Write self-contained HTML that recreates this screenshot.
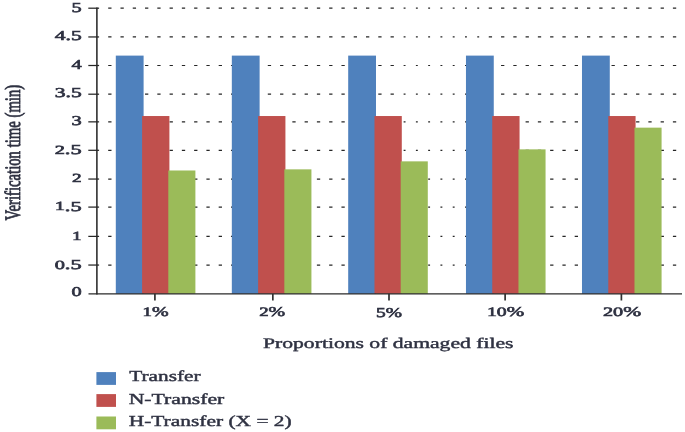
<!DOCTYPE html>
<html><head><meta charset="utf-8"><title>Verification time chart</title>
<style>
html,body{margin:0;padding:0;background:#fff;}
svg{display:block;}
text{font-family:"Liberation Serif","DejaVu Serif",serif;fill:#2f3242;text-rendering:geometricPrecision;}
.yt{stroke:#2f3242;stroke-width:0.55;}
.b{font-weight:normal;stroke:#2f3242;stroke-width:0.42;}
.tk{stroke-width:0.62;}
</style></head><body>
<svg width="685" height="432" viewBox="0 0 685 432">
<rect width="685" height="432" fill="#ffffff"/>

<line x1="108.2" x2="400" y1="265.05" y2="265.05" stroke="#262626" stroke-width="1.2" stroke-dasharray="3.3 8.976"/>
<line x1="403.62" x2="481" y1="265.05" y2="265.05" stroke="#262626" stroke-width="1.2" stroke-dasharray="1.9 10.376"/>
<line x1="488.76" x2="677" y1="265.05" y2="265.05" stroke="#262626" stroke-width="1.2" stroke-dasharray="3.3 8.976"/>
<line x1="108.2" x2="400" y1="236.40" y2="236.40" stroke="#262626" stroke-width="1.2" stroke-dasharray="3.3 8.976"/>
<line x1="403.62" x2="481" y1="236.40" y2="236.40" stroke="#262626" stroke-width="1.2" stroke-dasharray="1.9 10.376"/>
<line x1="488.76" x2="677" y1="236.40" y2="236.40" stroke="#262626" stroke-width="1.2" stroke-dasharray="3.3 8.976"/>
<line x1="108.2" x2="400" y1="207.10" y2="207.10" stroke="#262626" stroke-width="1.2" stroke-dasharray="3.3 8.976"/>
<line x1="403.62" x2="481" y1="207.10" y2="207.10" stroke="#262626" stroke-width="1.2" stroke-dasharray="1.9 10.376"/>
<line x1="488.76" x2="677" y1="207.10" y2="207.10" stroke="#262626" stroke-width="1.2" stroke-dasharray="3.3 8.976"/>
<line x1="108.2" x2="400" y1="179.05" y2="179.05" stroke="#262626" stroke-width="1.2" stroke-dasharray="3.3 8.976"/>
<line x1="403.62" x2="481" y1="179.05" y2="179.05" stroke="#262626" stroke-width="1.2" stroke-dasharray="1.9 10.376"/>
<line x1="488.76" x2="677" y1="179.05" y2="179.05" stroke="#262626" stroke-width="1.2" stroke-dasharray="3.3 8.976"/>
<line x1="108.2" x2="400" y1="150.30" y2="150.30" stroke="#262626" stroke-width="1.2" stroke-dasharray="3.3 8.976"/>
<line x1="403.62" x2="481" y1="150.30" y2="150.30" stroke="#262626" stroke-width="1.2" stroke-dasharray="1.9 10.376"/>
<line x1="488.76" x2="677" y1="150.30" y2="150.30" stroke="#262626" stroke-width="1.2" stroke-dasharray="3.3 8.976"/>
<line x1="108.2" x2="400" y1="121.85" y2="121.85" stroke="#262626" stroke-width="1.2" stroke-dasharray="3.3 8.976"/>
<line x1="403.62" x2="481" y1="121.85" y2="121.85" stroke="#262626" stroke-width="1.2" stroke-dasharray="1.9 10.376"/>
<line x1="488.76" x2="677" y1="121.85" y2="121.85" stroke="#262626" stroke-width="1.2" stroke-dasharray="3.3 8.976"/>
<line x1="108.2" x2="400" y1="94.20" y2="94.20" stroke="#262626" stroke-width="1.2" stroke-dasharray="3.3 8.976"/>
<line x1="403.62" x2="481" y1="94.20" y2="94.20" stroke="#262626" stroke-width="1.2" stroke-dasharray="1.9 10.376"/>
<line x1="488.76" x2="677" y1="94.20" y2="94.20" stroke="#262626" stroke-width="1.2" stroke-dasharray="3.3 8.976"/>
<line x1="108.2" x2="400" y1="65.50" y2="65.50" stroke="#262626" stroke-width="1.2" stroke-dasharray="3.3 8.976"/>
<line x1="403.62" x2="481" y1="65.50" y2="65.50" stroke="#262626" stroke-width="1.2" stroke-dasharray="1.9 10.376"/>
<line x1="488.76" x2="677" y1="65.50" y2="65.50" stroke="#262626" stroke-width="1.2" stroke-dasharray="3.3 8.976"/>
<line x1="108.2" x2="400" y1="36.95" y2="36.95" stroke="#262626" stroke-width="1.2" stroke-dasharray="3.3 8.976"/>
<line x1="403.62" x2="481" y1="36.95" y2="36.95" stroke="#262626" stroke-width="1.2" stroke-dasharray="1.9 10.376"/>
<line x1="488.76" x2="677" y1="36.95" y2="36.95" stroke="#262626" stroke-width="1.2" stroke-dasharray="3.3 8.976"/>
<line x1="108.2" x2="400" y1="8.20" y2="8.20" stroke="#262626" stroke-width="1.2" stroke-dasharray="3.3 8.976"/>
<line x1="403.62" x2="481" y1="8.20" y2="8.20" stroke="#262626" stroke-width="1.2" stroke-dasharray="1.9 10.376"/>
<line x1="488.76" x2="677" y1="8.20" y2="8.20" stroke="#262626" stroke-width="1.2" stroke-dasharray="3.3 8.976"/>
<rect x="115.80" y="55.61" width="27.8" height="238.19" fill="#4f81bd"/>
<rect x="142.10" y="116.03" width="27.3" height="177.77" fill="#c0504d"/>
<rect x="168.30" y="170.49" width="27.1" height="123.31" fill="#9bbb59"/>
<rect x="231.82" y="55.61" width="27.8" height="238.19" fill="#4f81bd"/>
<rect x="258.12" y="116.03" width="27.3" height="177.77" fill="#c0504d"/>
<rect x="284.32" y="169.35" width="27.1" height="124.45" fill="#9bbb59"/>
<rect x="348.19" y="55.61" width="27.8" height="238.19" fill="#4f81bd"/>
<rect x="374.49" y="116.03" width="27.3" height="177.77" fill="#c0504d"/>
<rect x="400.69" y="161.35" width="27.1" height="132.45" fill="#9bbb59"/>
<rect x="465.96" y="55.61" width="27.8" height="238.19" fill="#4f81bd"/>
<rect x="492.26" y="116.03" width="27.3" height="177.77" fill="#c0504d"/>
<rect x="518.46" y="149.36" width="27.1" height="144.44" fill="#9bbb59"/>
<rect x="581.98" y="55.61" width="27.8" height="238.19" fill="#4f81bd"/>
<rect x="608.28" y="116.03" width="27.3" height="177.77" fill="#c0504d"/>
<rect x="634.48" y="127.65" width="27.1" height="166.15" fill="#9bbb59"/>
<line x1="96.9" x2="96.9" y1="7.60" y2="294.40" stroke="#1a1a1a" stroke-width="1.45"/>
<line x1="88.5" x2="682" y1="293.8" y2="293.8" stroke="#2a2a2a" stroke-width="1.2"/>
<line x1="88.3" x2="99.10000000000001" y1="265.05" y2="265.05" stroke="#262626" stroke-width="1.25"/>
<line x1="88.3" x2="99.10000000000001" y1="236.40" y2="236.40" stroke="#262626" stroke-width="1.25"/>
<line x1="88.3" x2="99.10000000000001" y1="207.10" y2="207.10" stroke="#262626" stroke-width="1.25"/>
<line x1="88.3" x2="99.10000000000001" y1="179.05" y2="179.05" stroke="#262626" stroke-width="1.25"/>
<line x1="88.3" x2="99.10000000000001" y1="150.30" y2="150.30" stroke="#262626" stroke-width="1.25"/>
<line x1="88.3" x2="99.10000000000001" y1="121.85" y2="121.85" stroke="#262626" stroke-width="1.25"/>
<line x1="88.3" x2="99.10000000000001" y1="94.20" y2="94.20" stroke="#262626" stroke-width="1.25"/>
<line x1="88.3" x2="99.10000000000001" y1="65.50" y2="65.50" stroke="#262626" stroke-width="1.25"/>
<line x1="88.3" x2="99.10000000000001" y1="36.95" y2="36.95" stroke="#262626" stroke-width="1.25"/>
<line x1="88.3" x2="99.10000000000001" y1="8.20" y2="8.20" stroke="#262626" stroke-width="1.25"/>
<line x1="154.91" x2="154.91" y1="293.8" y2="300.5" stroke="#303030" stroke-width="1.7"/>
<line x1="272.83" x2="272.83" y1="293.8" y2="300.5" stroke="#303030" stroke-width="1.7"/>
<line x1="389.00" x2="389.00" y1="293.8" y2="300.5" stroke="#303030" stroke-width="1.7"/>
<line x1="505.12" x2="505.12" y1="293.8" y2="300.5" stroke="#303030" stroke-width="1.7"/>
<line x1="621.39" x2="621.39" y1="293.8" y2="300.5" stroke="#303030" stroke-width="1.7"/>
<text class="b tk" x="71.5" y="296.30" font-size="13.7" textLength="10.2" lengthAdjust="spacingAndGlyphs"><tspan font-size="13.3" dy="-0.20">0</tspan></text>
<text class="b tk" x="54.7" y="268.95" font-size="13.7" textLength="27.0" lengthAdjust="spacingAndGlyphs"><tspan font-size="12.4" dy="-0.20">0</tspan><tspan font-size="13.7" dy="0.20">.</tspan><tspan font-size="13.7" dy="0.00">5</tspan></text>
<text class="b tk" x="72.1" y="239.80" font-size="13.7" textLength="9.6" lengthAdjust="spacingAndGlyphs"><tspan font-size="12.4" dy="-0.20">1</tspan></text>
<text class="b tk" x="54.7" y="210.50" font-size="13.7" textLength="27.0" lengthAdjust="spacingAndGlyphs"><tspan font-size="12.4" dy="-0.20">1</tspan><tspan font-size="13.7" dy="0.20">.</tspan><tspan font-size="13.7" dy="0.00">5</tspan></text>
<text class="b tk" x="72.1" y="182.05" font-size="13.7" textLength="9.6" lengthAdjust="spacingAndGlyphs"><tspan font-size="12.4" dy="-0.20">2</tspan></text>
<text class="b tk" x="54.7" y="153.70" font-size="13.7" textLength="27.0" lengthAdjust="spacingAndGlyphs"><tspan font-size="12.4" dy="-0.20">2</tspan><tspan font-size="13.7" dy="0.20">.</tspan><tspan font-size="13.7" dy="0.00">5</tspan></text>
<text class="b tk" x="71.5" y="125.25" font-size="13.7" textLength="10.2" lengthAdjust="spacingAndGlyphs"><tspan font-size="13.7" dy="0.00">3</tspan></text>
<text class="b tk" x="54.7" y="96.60" font-size="13.7" textLength="27.0" lengthAdjust="spacingAndGlyphs"><tspan font-size="13.7" dy="0.00">3</tspan><tspan font-size="13.7" dy="0.00">.</tspan><tspan font-size="13.7" dy="0.00">5</tspan></text>
<text class="b tk" x="71.5" y="68.90" font-size="13.7" textLength="10.2" lengthAdjust="spacingAndGlyphs"><tspan font-size="13.7" dy="0.00">4</tspan></text>
<text class="b tk" x="54.7" y="40.35" font-size="13.7" textLength="27.0" lengthAdjust="spacingAndGlyphs"><tspan font-size="13.7" dy="0.00">4</tspan><tspan font-size="13.7" dy="0.00">.</tspan><tspan font-size="13.7" dy="0.00">5</tspan></text>
<text class="b tk" x="71.5" y="11.60" font-size="13.7" textLength="10.2" lengthAdjust="spacingAndGlyphs"><tspan font-size="13.7" dy="0.00">5</tspan></text>
<text class="b tk" x="142.6" y="316.4" font-size="13.2" textLength="26" lengthAdjust="spacingAndGlyphs"><tspan font-size="12.8" dy="0.00">1</tspan><tspan font-size="13.6" dy="0.00">%</tspan></text>
<text class="b tk" x="259.2" y="316.4" font-size="13.2" textLength="26" lengthAdjust="spacingAndGlyphs"><tspan font-size="12.8" dy="0.00">2</tspan><tspan font-size="13.6" dy="0.00">%</tspan></text>
<text class="b tk" x="375.9" y="317.2" font-size="13.2" textLength="26" lengthAdjust="spacingAndGlyphs"><tspan font-size="13.6" dy="0.00">5</tspan><tspan font-size="13.6" dy="0.00">%</tspan></text>
<text class="b tk" x="486.9" y="316.4" font-size="13.2" textLength="37.2" lengthAdjust="spacingAndGlyphs"><tspan font-size="12.8" dy="0.00">1</tspan><tspan font-size="12.8" dy="0.00">0</tspan><tspan font-size="13.6" dy="0.00">%</tspan></text>
<text class="b tk" x="603.0" y="316.4" font-size="13.2" textLength="38.2" lengthAdjust="spacingAndGlyphs"><tspan font-size="12.8" dy="0.00">2</tspan><tspan font-size="12.8" dy="0.00">0</tspan><tspan font-size="13.6" dy="0.00">%</tspan></text>
<text class="b" x="263" y="348.2" font-size="14.7" textLength="250.5" lengthAdjust="spacingAndGlyphs">Proportions of damaged files</text>
<text class="yt" transform="translate(19.6 220.5) rotate(-90) scale(1 1.5)" x="0" y="0" font-size="14.7" textLength="135.7" lengthAdjust="spacingAndGlyphs">Verification time (min)</text>
<rect x="96.4" y="372.1" width="19.6" height="12.8" fill="#4f81bd"/>
<text class="b" x="129.3" y="380.9" font-size="15.2" textLength="71.3" lengthAdjust="spacingAndGlyphs">Transfer</text>
<rect x="96.4" y="394.1" width="19.6" height="12.8" fill="#c0504d"/>
<text class="b" x="128.7" y="403.5" font-size="15.2" textLength="95.6" lengthAdjust="spacingAndGlyphs">N-Transfer</text>
<rect x="96.4" y="416.5" width="19.6" height="12.8" fill="#9bbb59"/>
<text class="b" x="128.7" y="426.0" font-size="15.2" textLength="163" lengthAdjust="spacingAndGlyphs">H-Transfer (X = 2)</text>
</svg></body></html>
